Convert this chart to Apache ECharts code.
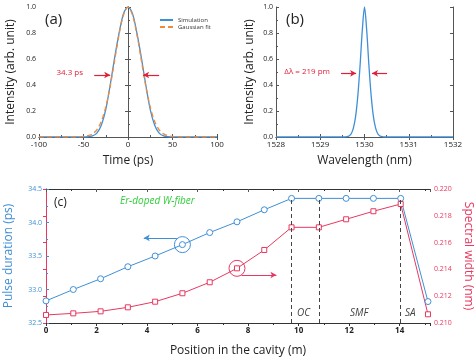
<!DOCTYPE html>
<html><head><meta charset="utf-8">
<script src="https://cdn.jsdelivr.net/npm/echarts@6/dist/echarts.min.js"></script>
<style>html,body{margin:0;padding:0;background:#fff}#c{width:474px;height:364px}</style>
</head><body><div id="c"></div>
<script>
// ---- Panel (a): temporal profile ----
const timePs = [-100,-60,-55,-50,-45,-40,-35,-30,-25,-20,-15,-10,-5,0,5,10,15,20,25,30,35,40,45,50,55,60,100];
const simIntensity = [0,0,0,0,0.002,0.008,0.03,0.09,0.21,0.40,0.61,0.80,0.95,1.0,0.95,0.80,0.61,0.40,0.21,0.09,0.03,0.008,0.002,0,0,0,0];
const gaussFit = [0,0,0.001,0.004,0.01,0.024,0.055,0.12,0.23,0.39,0.59,0.79,0.94,1.0,0.94,0.79,0.59,0.39,0.23,0.12,0.055,0.024,0.01,0.004,0.001,0,0];
// ---- Panel (b): spectrum ----
const wavelengthNm = [1528,1529.5,1529.55,1529.6,1529.65,1529.7,1529.75,1529.8,1529.85,1529.9,1529.95,1530,1530.05,1530.1,1530.15,1530.2,1530.25,1530.3,1530.35,1530.4,1530.45,1530.5,1532];
const spectrum = [0,0,0,0.002,0.008,0.025,0.07,0.16,0.32,0.55,0.82,1.0,0.82,0.55,0.32,0.16,0.07,0.025,0.008,0.002,0,0,0];
// ---- Panel (c): evolution along cavity ----
const positionM = [0,1.08,2.16,3.24,4.32,5.40,6.48,7.56,8.64,9.72,10.80,11.88,12.96,14.04,15.12];
const pulseDurationPs = [32.83,33.00,33.16,33.34,33.50,33.67,33.85,34.01,34.19,34.36,34.36,34.36,34.36,34.36,32.82];
const spectralWidthNm = [0.2106,0.21072,0.21087,0.21117,0.21159,0.21222,0.21304,0.21408,0.21545,0.21714,0.21714,0.21774,0.21834,0.21888,0.21065];
const sectionBounds = [9.72,10.80,14.04];

const BLUE = '#3f8fd6', ORANGE = '#ee8a3c', RED = '#e8385f', ARED = '#e0203a';
const FONT = 'Open Sans';
const pair = (xs, ys) => xs.map((x, i) => [x, ys[i]]);

const frameAxis = {axisLine:{lineStyle:{color:'#555',width:1}}, axisTick:{inside:true,length:3,lineStyle:{color:'#555'}}, splitLine:{show:false}};
const chart = echarts.init(document.getElementById('c'), null, {renderer:'canvas'});
const arrowLine = (a, b, color) => [{coord:a, lineStyle:{color:color,width:1.2,type:'solid'}}, {coord:b}];

const option = {
  animation:false,
  textStyle:{fontFamily:FONT},
  grid:[
    {left:39, top:7, width:178, height:130, containLabel:false, outerBoundsMode:'none'},
    {left:276, top:7, width:177, height:130, containLabel:false, outerBoundsMode:'none'},
    {left:46, top:189, width:384, height:134, containLabel:false, outerBoundsMode:'none'}
  ],
  legend:{
    left:154, top:12, orient:'vertical', itemWidth:13, itemHeight:6, itemGap:1,
    itemStyle:{opacity:0},
    textStyle:{fontSize:6, color:'#333', fontFamily:FONT},
    data:['Simulation','Gaussian fit']
  },
  xAxis:[
    Object.assign({}, frameAxis, {gridIndex:0, type:'value', min:-100, max:100, interval:50,
      minorTick:{show:true, splitNumber:2, length:2},
      axisLabel:{fontSize:8, color:'#222', margin:4},
      name:'Time (ps)', nameLocation:'middle', nameGap:18, nameTextStyle:{fontSize:12, color:'#222'}}),
    Object.assign({}, frameAxis, {gridIndex:1, type:'value', min:1528, max:1532, interval:1,
      minorTick:{show:true, splitNumber:2, length:2},
      axisLabel:{fontSize:8, color:'#222', margin:4, formatter:v=>String(v)},
      name:'Wavelength (nm)', nameLocation:'middle', nameGap:18, nameTextStyle:{fontSize:12, color:'#222'}}),
    Object.assign({}, frameAxis, {gridIndex:2, type:'value', min:0, max:15.2, interval:2,
      axisLine:{lineStyle:{color:'#333',width:1}},
      axisTick:{inside:false,length:3,lineStyle:{color:'#333'}},
      minorTick:{show:true, splitNumber:2, length:2},
      axisLabel:{fontSize:8, color:'#222', margin:4, fontWeight:'bold', showMaxLabel:false},
      name:'Position in the cavity (m)', nameLocation:'middle', nameGap:22, nameTextStyle:{fontSize:12, color:'#222'}}),
    Object.assign({}, frameAxis, {gridIndex:0, type:'value', position:'top', min:-100, max:100, interval:50, axisLabel:{show:false}}),
    Object.assign({}, frameAxis, {gridIndex:1, type:'value', position:'top', min:1528, max:1532, interval:1, axisLabel:{show:false}}),
    Object.assign({}, frameAxis, {gridIndex:2, type:'value', position:'top', min:0, max:15.2, interval:2,
      minorTick:{show:true, splitNumber:2, length:2}, axisLine:{lineStyle:{color:'#333'}}, axisLabel:{show:false}})
  ],
  yAxis:[
    Object.assign({}, frameAxis, {gridIndex:0, type:'value', min:0, max:1, interval:0.2,
      minorTick:{show:true, splitNumber:2, length:2},
      axisLabel:{fontSize:7, color:'#222', margin:3, formatter:v=>v.toFixed(1)},
      name:'Intensity (arb. unit)', nameLocation:'middle', nameGap:22, nameRotate:90, nameTextStyle:{fontSize:12, color:'#222'}}),
    Object.assign({}, frameAxis, {gridIndex:1, type:'value', min:0, max:1, interval:0.2,
      minorTick:{show:true, splitNumber:2, length:2},
      axisLabel:{fontSize:7, color:'#222', margin:3, formatter:v=>v.toFixed(1)},
      name:'Intensity (arb. unit)', nameLocation:'middle', nameGap:20, nameRotate:90, nameTextStyle:{fontSize:12, color:'#222'}}),
    {gridIndex:2, type:'value', min:32.5, max:34.5, interval:0.5, splitLine:{show:false},
      axisLine:{show:true, lineStyle:{color:BLUE, width:1}}, axisTick:{show:true, inside:true, length:3, lineStyle:{color:BLUE}},
      minorTick:{show:true, splitNumber:2, length:2, lineStyle:{color:BLUE}},
      axisLabel:{fontSize:7, color:BLUE, margin:4, formatter:v=>v.toFixed(1)},
      name:'Pulse duration (ps)', nameLocation:'middle', nameGap:31, nameRotate:90, nameTextStyle:{fontSize:12, color:BLUE}},
    {gridIndex:2, type:'value', position:'right', min:0.21, max:0.22, interval:0.002, splitLine:{show:false},
      axisLine:{show:true, lineStyle:{color:RED, width:1}}, axisTick:{show:true, inside:true, length:3, lineStyle:{color:RED}},
      axisLabel:{fontSize:7, color:RED, margin:4, formatter:v=>v.toFixed(3)},
      name:'Spectral width (nm)', nameLocation:'middle', nameGap:28, nameRotate:-90, nameTextStyle:{fontSize:12, color:RED}},
    Object.assign({}, frameAxis, {gridIndex:0, type:'value', position:'right', min:0, max:1, interval:0.2, axisLabel:{show:false}}),
    Object.assign({}, frameAxis, {gridIndex:1, type:'value', position:'right', min:0, max:1, interval:0.2, axisLabel:{show:false}})
  ],
  series:[
    {name:'Simulation', type:'line', xAxisIndex:0, yAxisIndex:0, data:pair(timePs, simIntensity), smooth:0.3,
      showSymbol:false, symbol:'none', lineStyle:{color:BLUE, width:1.3}, itemStyle:{color:BLUE}, z:3,
      markLine:{silent:true, symbol:['none','arrow'], symbolSize:[5,6], label:{show:false},
        data:[arrowLine([-38,0.477],[-20,0.477],ARED), arrowLine([35,0.477],[17,0.477],ARED)]}},
    {name:'Gaussian fit', type:'line', xAxisIndex:0, yAxisIndex:0, data:pair(timePs, gaussFit), smooth:0.3,
      showSymbol:false, symbol:'none', lineStyle:{color:ORANGE, width:1.3, type:[5,3]}, itemStyle:{color:ORANGE}, z:4},
    {name:'Spectrum', type:'line', xAxisIndex:1, yAxisIndex:1, data:pair(wavelengthNm, spectrum), smooth:0.3,
      showSymbol:false, symbol:'none', lineStyle:{color:BLUE, width:1.3}, itemStyle:{color:BLUE},
      markLine:{silent:true, symbol:['none','arrow'], symbolSize:[5,6], label:{show:false},
        data:[arrowLine([1529.47,0.49],[1529.81,0.49],ARED), arrowLine([1530.51,0.49],[1530.17,0.49],ARED)]}},
    {name:'Pulse duration', type:'line', xAxisIndex:2, yAxisIndex:2, data:pair(positionM, pulseDurationPs),
      symbol:'circle', symbolSize:6, lineStyle:{color:BLUE, width:1}, itemStyle:{color:'#fff', borderColor:BLUE, borderWidth:1}, z:4,
      markLine:{silent:true, symbol:'none', label:{show:false}, lineStyle:{color:'#444', type:[4,3], width:1},
        data:sectionBounds.map(x => [{coord:[x,32.5]},{coord:[x,34.36]}]).concat([
          [{coord:[5.18,33.77], symbol:'none', lineStyle:{color:BLUE,type:'solid',width:1.2}}, {coord:[3.87,33.77], symbol:'arrow', symbolSize:[5,6]}]
        ])},
      markPoint:{silent:true, symbol:'circle', symbolSize:16, label:{show:false},
        itemStyle:{color:'rgba(0,0,0,0)', borderColor:BLUE, borderWidth:1}, data:[{coord:[5.40,33.67]}]}},
    {name:'Spectral width', type:'line', xAxisIndex:2, yAxisIndex:3, data:pair(positionM, spectralWidthNm),
      symbol:'rect', symbolSize:5, lineStyle:{color:RED, width:1}, itemStyle:{color:'#fff', borderColor:RED, borderWidth:1}, z:4,
      markLine:{silent:true, label:{show:false},
        data:[[{coord:[7.74,0.21358], symbol:'none', lineStyle:{color:RED,type:'solid',width:1.2}}, {coord:[9.12,0.21358], symbol:'arrow', symbolSize:[5,6]}]]},
      markPoint:{silent:true, symbol:'circle', symbolSize:16, label:{show:false},
        itemStyle:{color:'rgba(0,0,0,0)', borderColor:RED, borderWidth:1}, data:[{coord:[7.56,0.21408]}]}}
  ],
  graphic:[
    {type:'text', left:45, top:12, style:{text:'(a)', fontSize:15, fill:'#222', fontFamily:FONT}},
    {type:'text', left:286, top:12, style:{text:'(b)', fontSize:15, fill:'#222', fontFamily:FONT}},
    {type:'text', right:474-83, top:69, style:{text:'34.3 ps', fontSize:8, fill:ARED, fontFamily:FONT}},
    {type:'text', right:474-330, top:68, style:{text:'\u0394\u03bb = 219 pm', fontSize:8, fill:ARED, fontFamily:FONT}},
    {type:'text', left:54, top:197, style:{text:'(c)', fontSize:12, fill:'#222', fontFamily:FONT}},
    {type:'text', left:120, top:196, style:{text:'Er-doped W-fiber', fontSize:10, fill:'#2fcf3a', fontStyle:'italic', fontFamily:FONT}},
    {type:'text', left:297, top:308, style:{text:'OC', fontSize:10, fill:'#444', fontStyle:'italic', fontFamily:FONT}},
    {type:'text', left:350, top:308, style:{text:'SMF', fontSize:10, fill:'#444', fontStyle:'italic', fontFamily:FONT}},
    {type:'text', left:405, top:308, style:{text:'SA', fontSize:10, fill:'#444', fontStyle:'italic', fontFamily:FONT}}
  ]
};
chart.setOption(option);
</script>
</body></html>
